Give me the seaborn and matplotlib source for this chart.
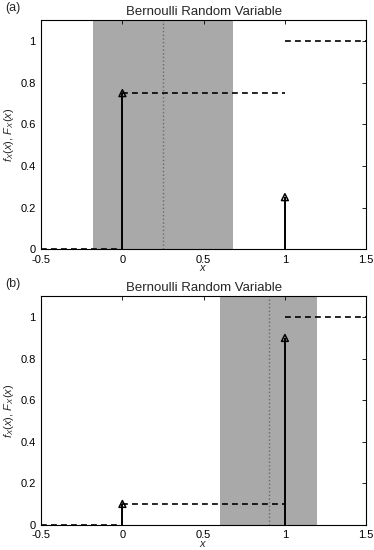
import numpy as np
import pandas as pd
import seaborn as sns
import matplotlib.pyplot as plt

# two Bernoulli cases: (a) p = 0.25, (b) p = 0.9
panels = ["(a)", "(b)"]
outcomes = [0, 1]
pmf_a = [0.75, 0.25]
pmf_b = [0.1, 0.9]
cdf_a = [0.0, 0.75, 1.0]
cdf_b = [0.0, 0.1, 1.0]
cdf_edges = [-0.5, 0, 1, 1.5]
means = [0.25, 0.9]
shade_lo = [-0.183, 0.6]
shade_hi = [0.683, 1.2]
x_ticks = [-0.5, 0, 0.5, 1, 1.5]
y_ticks = [0, 0.2, 0.4, 0.6, 0.8, 1]

sns.set_style("white")
plt.rcParams["font.family"] = ["Liberation Sans", "DejaVu Sans"]
plt.rcParams["mathtext.fontset"] = "custom"
plt.rcParams["mathtext.it"] = "Liberation Sans:italic"
plt.rcParams["mathtext.rm"] = "Liberation Sans"

fig = plt.figure(figsize=(3.74, 5.5), dpi=100)
ax_a = fig.add_axes([0.110, 0.547, 0.869, 0.416])
ax_b = fig.add_axes([0.110, 0.046, 0.869, 0.415])

for ax, lab, pmf, cdf, mu, lo, hi in zip([ax_a, ax_b], panels, [pmf_a, pmf_b],
                                         [cdf_a, cdf_b], means, shade_lo, shade_hi):
    # shaded mean +/- std band and dotted mean line
    ax.axvspan(lo, hi, color="#a9a9a9", lw=0, zorder=0)
    ax.axvline(mu, color="#6a6a6a", ls=":", lw=1.0, zorder=1)

    # cdf as dashed steps
    segs = pd.DataFrame({
        "x": [e for i in range(3) for e in (cdf_edges[i], cdf_edges[i + 1])],
        "F": [c for c in cdf for _ in range(2)],
        "seg": [i for i in range(3) for _ in range(2)],
    })
    sns.lineplot(data=segs, x="x", y="F", units="seg", estimator=None,
                 color="black", lw=1.2, ax=ax, zorder=3)
    for ln in ax.get_lines()[1:]:
        ln.set_dashes([3.5, 2.5])

    # pmf as stems with triangle heads
    ax.vlines(outcomes, 0, pmf, color="black", lw=1.4, zorder=4)
    sns.scatterplot(x=outcomes, y=pmf, marker="^", s=24, color="black",
                    facecolor="none", edgecolor="black", linewidth=1.1,
                    ax=ax, zorder=5)

    ax.set_xlim(-0.5, 1.5)
    ax.set_ylim(0, 1.1)
    ax.set_xticks(x_ticks)
    ax.set_xticklabels(["-0.5", "0", "0.5", "1", "1.5"])
    ax.set_yticks(y_ticks)
    ax.set_yticklabels(["0", "0.2", "0.4", "0.6", "0.8", "1"])
    ax.tick_params(direction="in", length=3, width=0.6, top=True, right=True,
                   labelsize=8, colors="black")
    ax.tick_params(axis="x", pad=4)
    ax.tick_params(axis="y", pad=4)
    for s in ax.spines.values():
        s.set_linewidth(0.8)
        s.set_color("black")
    ax.set_title("Bernoulli Random Variable", fontsize=9.5, pad=4)
    ax.set_xlabel("$x$", fontsize=8, labelpad=-1)
    ax.set_ylabel("$f_X(x)$, $F_X(x)$", fontsize=8, labelpad=3)
    ax.text(-0.11, 1.04, lab, transform=ax.transAxes, fontsize=9)

fig.savefig("out.png", dpi=100)
